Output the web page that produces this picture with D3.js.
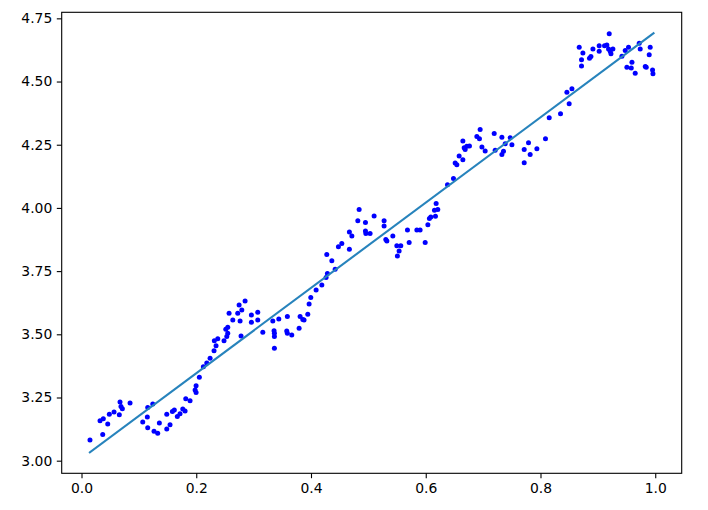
<!DOCTYPE html>
<html>
<head>
<meta charset="utf-8">
<script src="https://cdn.jsdelivr.net/npm/d3@7"></script>
<style>
  body { margin: 0; background: #fff; }
  svg text { font-family: "DejaVu Sans", sans-serif; }
</style>
</head>
<body>
<div id="chart"></div>
<script>
// scatter samples
var xs = [
  0.0148, 0.0370, 0.0323, 0.0380, 0.0457, 0.0485, 0.0567, 0.0659, 0.0671, 0.0688,
  0.0712, 0.0846, 0.1154, 0.1242, 0.1067, 0.1147, 0.1154, 0.1264, 0.1328, 0.1357,
  0.1486, 0.1543, 0.1486, 0.1584, 0.1618, 0.1670, 0.1717, 0.1765, 0.1805, 0.1817,
  0.1892, 0.1980, 0.1997, 0.2054, 0.2124, 0.2183, 0.1997, 0.2241, 0.2310, 0.2345,
  0.2315, 0.2375, 0.2484, 0.2532, 0.2549, 0.2515, 0.2549, 0.2637, 0.2572, 0.2723,
  0.2794, 0.2747, 0.2851, 0.2764, 0.2781, 0.2961, 0.2961, 0.3072, 0.3072, 0.3160,
  0.3334, 0.3356, 0.3362, 0.3362, 0.3362, 0.3439, 0.3588, 0.3577, 0.3588, 0.3665,
  0.3793, 0.3810, 0.3857, 0.3879, 0.3944, 0.3967, 0.3996, 0.4089, 0.4189, 0.4263,
  0.4286, 0.4421, 0.4363, 0.4275, 0.4478, 0.4537, 0.4669, 0.4669, 0.4712, 0.4816,
  0.4839, 0.4949, 0.4949, 0.4956, 0.5030, 0.5100, 0.5274, 0.5274, 0.5304, 0.5322,
  0.5426, 0.5496, 0.5565, 0.5536, 0.5506, 0.5681, 0.5711, 0.5845, 0.5902, 0.5990,
  0.6037, 0.6064, 0.6088, 0.6169, 0.6152, 0.6210, 0.6181, 0.6379, 0.6483, 0.6513,
  0.6542, 0.6582, 0.6647, 0.6647, 0.6670, 0.6687, 0.6716, 0.6762, 0.6891, 0.6936,
  0.6948, 0.6979, 0.7036, 0.7193, 0.7210, 0.7327, 0.7327, 0.7355, 0.7385, 0.7471,
  0.7502, 0.7716, 0.7716, 0.7791, 0.7820, 0.7937, 0.8087, 0.8152, 0.8349, 0.8500,
  0.8460, 0.8548, 0.8675, 0.8739, 0.8715, 0.8715, 0.8854, 0.8879, 0.8914, 0.9023,
  0.9023, 0.9116, 0.9157, 0.9198, 0.9186, 0.9215, 0.9228, 0.9262, 0.9419, 0.9477,
  0.9534, 0.9506, 0.9582, 0.9594, 0.9651, 0.9721, 0.9738, 0.9826, 0.9843, 0.9912,
  0.9895, 0.9953, 0.9960
]
var ys = [
  3.082, 3.104, 3.158, 3.166, 3.145, 3.184, 3.193, 3.182, 3.232, 3.214,
  3.205, 3.228, 3.210, 3.224, 3.153, 3.173, 3.130, 3.116, 3.109, 3.149,
  3.125, 3.142, 3.184, 3.195, 3.201, 3.175, 3.186, 3.204, 3.197, 3.245,
  3.237, 3.280, 3.296, 3.330, 3.372, 3.386, 3.270, 3.405, 3.435, 3.455,
  3.474, 3.482, 3.474, 3.491, 3.504, 3.520, 3.528, 3.557, 3.583, 3.583,
  3.596, 3.616, 3.632, 3.553, 3.493, 3.576, 3.548, 3.587, 3.557, 3.508,
  3.553, 3.514, 3.504, 3.491, 3.445, 3.561, 3.570, 3.513, 3.504, 3.497,
  3.524, 3.570, 3.559, 3.557, 3.579, 3.620, 3.646, 3.675, 3.695, 3.725,
  3.741, 3.757, 3.791, 3.816, 3.846, 3.859, 3.836, 3.905, 3.889, 3.949,
  3.994, 3.942, 3.909, 3.899, 3.899, 3.968, 3.949, 3.928, 3.875, 3.869,
  3.889, 3.850, 3.850, 3.830, 3.810, 3.913, 3.863, 3.913, 3.913, 3.863,
  3.933, 3.958, 3.964, 3.967, 3.991, 3.994, 4.017, 4.092, 4.116, 4.178,
  4.171, 4.205, 4.191, 4.265, 4.238, 4.231, 4.244, 4.245, 4.283, 4.274,
  4.310, 4.241, 4.225, 4.294, 4.228, 4.280, 4.211, 4.224, 4.254, 4.278,
  4.250, 4.231, 4.179, 4.258, 4.211, 4.234, 4.274, 4.357, 4.373, 4.412,
  4.458, 4.471, 4.636, 4.613, 4.586, 4.561, 4.592, 4.599, 4.629, 4.642,
  4.620, 4.642, 4.645, 4.689, 4.629, 4.620, 4.610, 4.629, 4.600, 4.623,
  4.636, 4.557, 4.554, 4.576, 4.533, 4.651, 4.629, 4.559, 4.557, 4.636,
  4.606, 4.546, 4.531
]
// fitted line end points
var fitX = [0.0146, 0.997]
var fitY = [3.033, 4.691]

var xTicks = [0.0, 0.2, 0.4, 0.6, 0.8, 1.0]
var yTicks = [3.00, 3.25, 3.50, 3.75, 4.00, 4.25, 4.50, 4.75]

var svgWidth = 708,
    svgHeight = 510
var margin = { top: 12.3, right: 26.3, bottom: 36.7, left: 61.7 }
var width = svgWidth - margin.left - margin.right,
    height = svgHeight - margin.top - margin.bottom

var points = xs.map((x, i) => ({ x: x, y: ys[i] }))

// matplotlib style 5% margins around the data
function padded(vals) {
    var ext = d3.extent(vals)
    var pad = (ext[1] - ext[0]) * 0.05
    return [ext[0] - pad, ext[1] + pad]
}

var xScale = d3.scaleLinear()
    .domain(padded(xs.concat(fitX)))
    .range([0, width])
var yScale = d3.scaleLinear()
    .domain(padded(ys.concat(fitY)))
    .range([height, 0])

var svg = d3.select('#chart').append('svg')
    .attr('width', svgWidth)
    .attr('height', svgHeight)
    .append('g')
    .attr('transform', 'translate(' + margin.left + ',' + margin.top + ')')

// points
svg.selectAll('circle')
    .data(points)
    .enter()
    .append('circle')
    .attr('cx', d => xScale(d.x))
    .attr('cy', d => yScale(d.y))
    .attr('r', 2.5)
    .attr('fill', '#0000ff')

// fit line on top
var line = d3.line()
    .x(d => xScale(d[0]))
    .y(d => yScale(d[1]))
svg.append('path')
    .datum(fitX.map((x, i) => [x, fitY[i]]))
    .attr('d', line)
    .attr('fill', 'none')
    .attr('stroke', '#2783bc')
    .attr('stroke-width', 2.1)
    .attr('stroke-linecap', 'square')

// axes
svg.append('g')
    .attr('transform', 'translate(0,' + height + ')')
    .call(d3.axisBottom(xScale)
        .tickValues(xTicks)
        .tickFormat(d3.format('.1f'))
        .tickSize(4.9)
        .tickPadding(4.5)
        .tickSizeOuter(0))
svg.append('g')
    .call(d3.axisLeft(yScale)
        .tickValues(yTicks)
        .tickFormat(d3.format('.2f'))
        .tickSize(4.9)
        .tickPadding(4.5)
        .tickSizeOuter(0))

svg.selectAll('.domain').remove()
svg.selectAll('.tick line').attr('stroke', '#000').attr('stroke-width', 1.1)
svg.selectAll('.tick text')
    .attr('fill', '#000')
    .style('font-size', '13.9px')

// frame
svg.append('rect')
    .attr('x', 0)
    .attr('y', 0)
    .attr('width', width)
    .attr('height', height)
    .attr('fill', 'none')
    .attr('stroke', '#000')
    .attr('stroke-width', 1.1)
</script>
</body>
</html>
